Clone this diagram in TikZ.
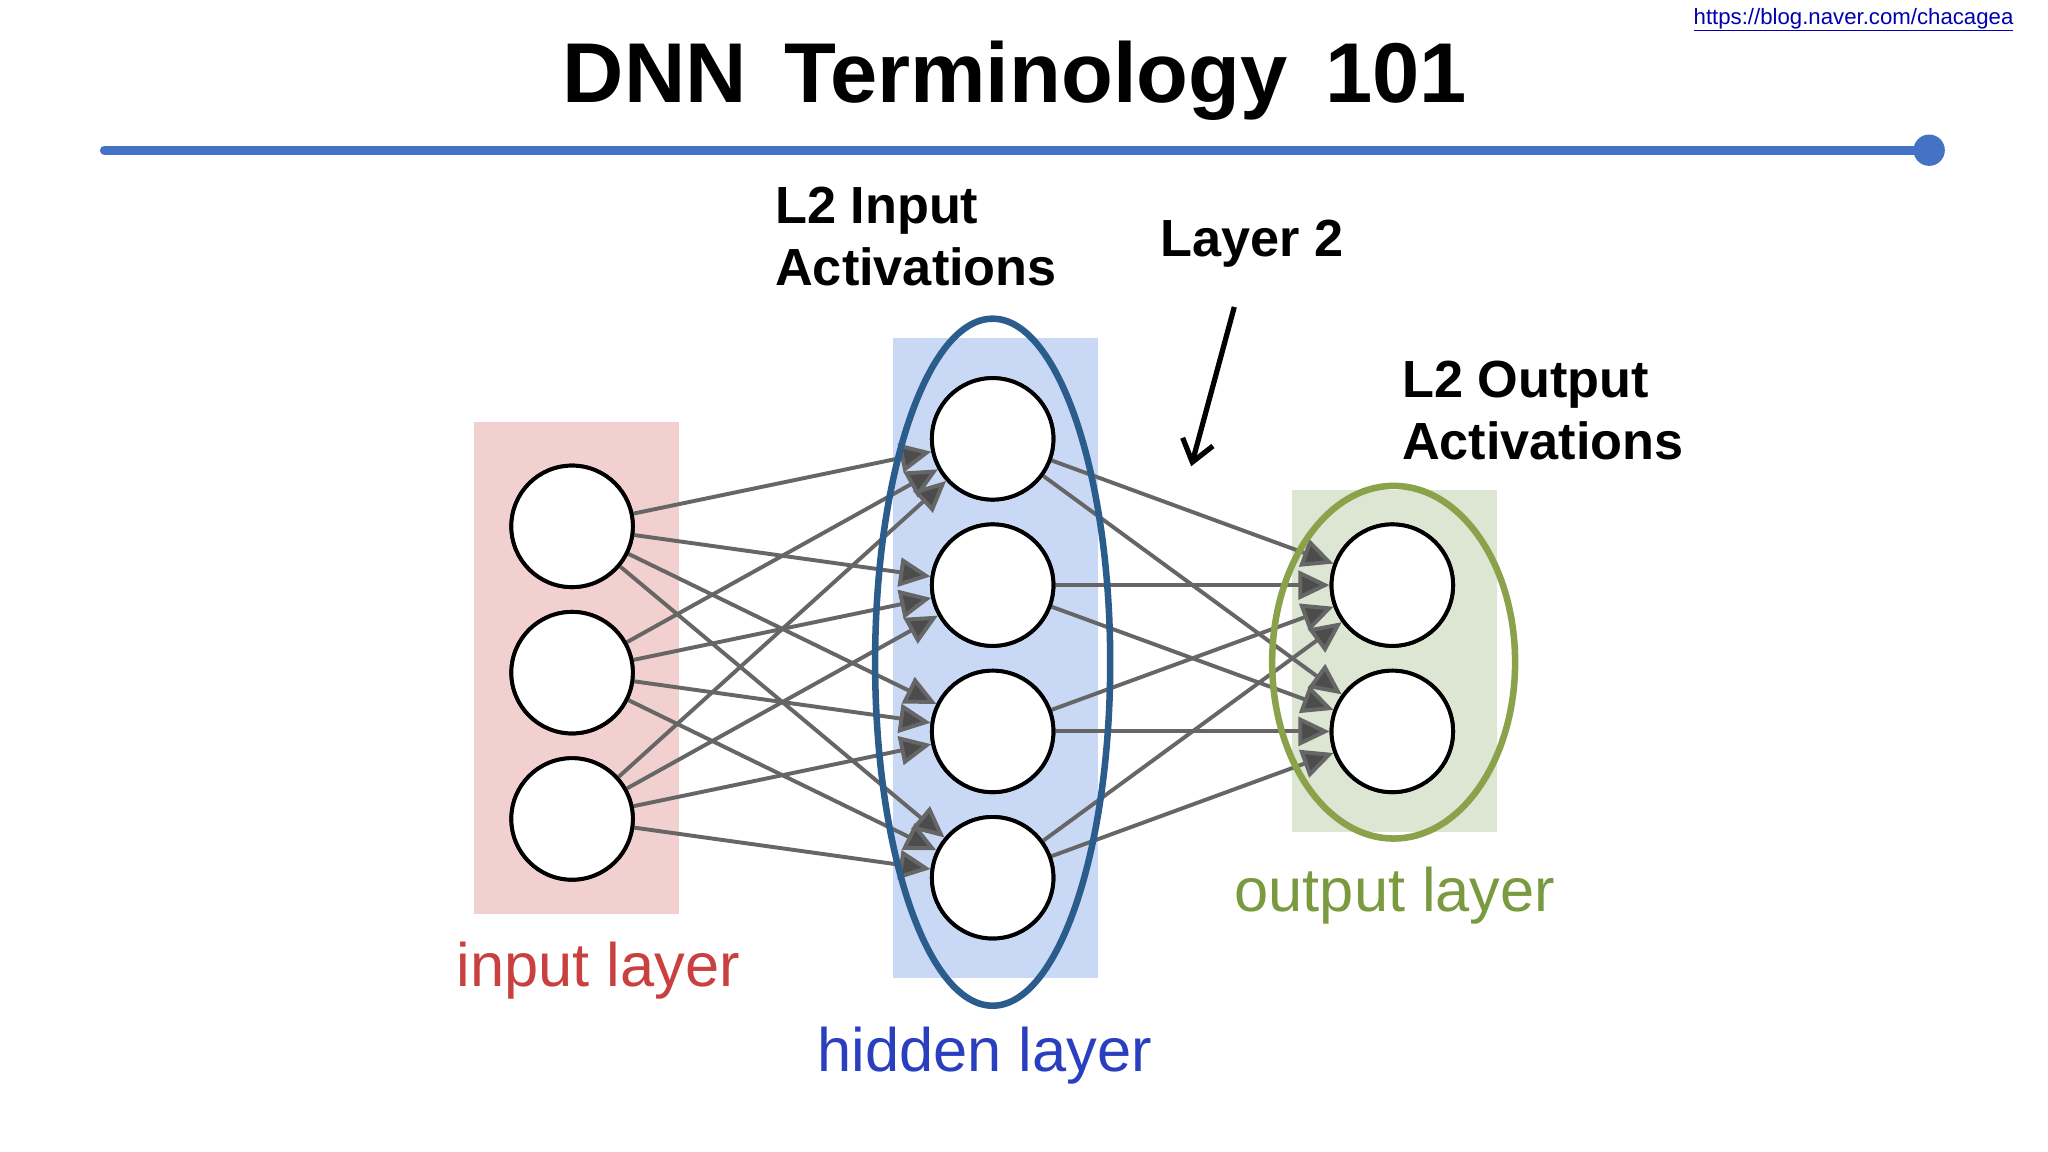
\documentclass[tikz,border=0pt]{standalone}
\usepackage{fontspec}
\setmainfont{Liberation Sans}
\usetikzlibrary{arrows.meta}
\definecolor{lineblue}{HTML}{4472C4}
\definecolor{inbg}{HTML}{F2D0D0}
\definecolor{hidbg}{HTML}{C9D9F5}
\definecolor{outbg}{HTML}{DCE6D2}
\definecolor{ellblue}{HTML}{2A5C8C}
\definecolor{ellgreen}{HTML}{8AA34A}
\definecolor{inred}{HTML}{C94040}
\definecolor{hidblue}{HTML}{2A3FC0}
\definecolor{outgreen}{HTML}{7A9A40}
\tikzset{
  neuron/.style={circle,draw=black,line width=3pt,fill=white,minimum size=93pt,inner sep=0pt},
  edge/.style={draw=gray!80!black,line width=3pt,-{Triangle[length=24pt,width=22pt,fill=gray!60!black]}},
  lbl/.style={font=\fontsize{47}{52}\selectfont,anchor=center},
  blbl/.style={font=\bfseries\fontsize{40}{47}\selectfont,align=left,anchor=north west}
}
\begin{document}
\begin{tikzpicture}[x=1pt,y=-1pt]
\useasboundingbox (0,0) rectangle (1568,882);
\fill[white] (0,0) rectangle (1568,882);
\node[font=\fontsize{17}{19}\selectfont,text=blue!70!black,anchor=east] (url) at (1545,15) {\underline{https://blog.naver.com/chacagea}};
\node[font=\bfseries\fontsize{65}{76}\selectfont] (title) at (777,62) {DNN\, Terminology\, 101};
\draw[lineblue,line width=7pt,line cap=round] (80,115) coordinate (l0) -- (1477,115) coordinate (l1);
\fill[lineblue] (l1) circle (12);
\fill[inbg] (363,323) rectangle (520,700);
\fill[hidbg] (684,259) rectangle (841,749);
\fill[outbg] (989,375) rectangle (1146,637);
\foreach \i/\y in {1/403,2/515,3/627} \node[neuron] (i\i) at (438,\y) {};
\foreach \i/\y in {1/336,2/448,3/560,4/672} \node[neuron] (h\i) at (760,\y) {};
\foreach \i/\y in {1/448,2/560} \node[neuron] (o\i) at (1066,\y) {};
\foreach \a in {1,2,3} \foreach \b in {1,2,3,4} \draw[edge] (i\a) -- (h\b);
\foreach \a in {1,2,3,4} \foreach \b in {1,2} \draw[edge] (h\a) -- (o\b);
\foreach \i/\y in {1/403,2/515,3/627} \node[neuron] at (438,\y) {};
\foreach \i/\y in {1/336,2/448,3/560,4/672} \node[neuron] at (760,\y) {};
\foreach \i/\y in {1/448,2/560} \node[neuron] at (1066,\y) {};
\draw[ellblue,line width=5pt] (760,507) ellipse [x radius=90,y radius=263];
\draw[ellgreen,line width=5pt] (1067,507) ellipse [x radius=93,y radius=135];
\node[lbl,text=inred] (inl) at (458,743) {input layer};
\node[lbl,text=hidblue] (hidl) at (754,808) {hidden layer};
\node[lbl,text=outgreen] (outl) at (1068,686) {output layer};
\node[blbl] (l2in) at (590,140) {L2 Input\\Activations};
\node[blbl] (l2) at (885,165) {Layer 2};
\node[blbl] (l2out) at (1070,273) {L2 Output\\Activations};
\coordinate (a0) at (945,235);
\coordinate (a1) at (912,357);
\draw[black,line width=4pt,-{Straight Barb[length=16pt,width=24pt]}] (a0) -- (a1);
\end{tikzpicture}
\end{document}
